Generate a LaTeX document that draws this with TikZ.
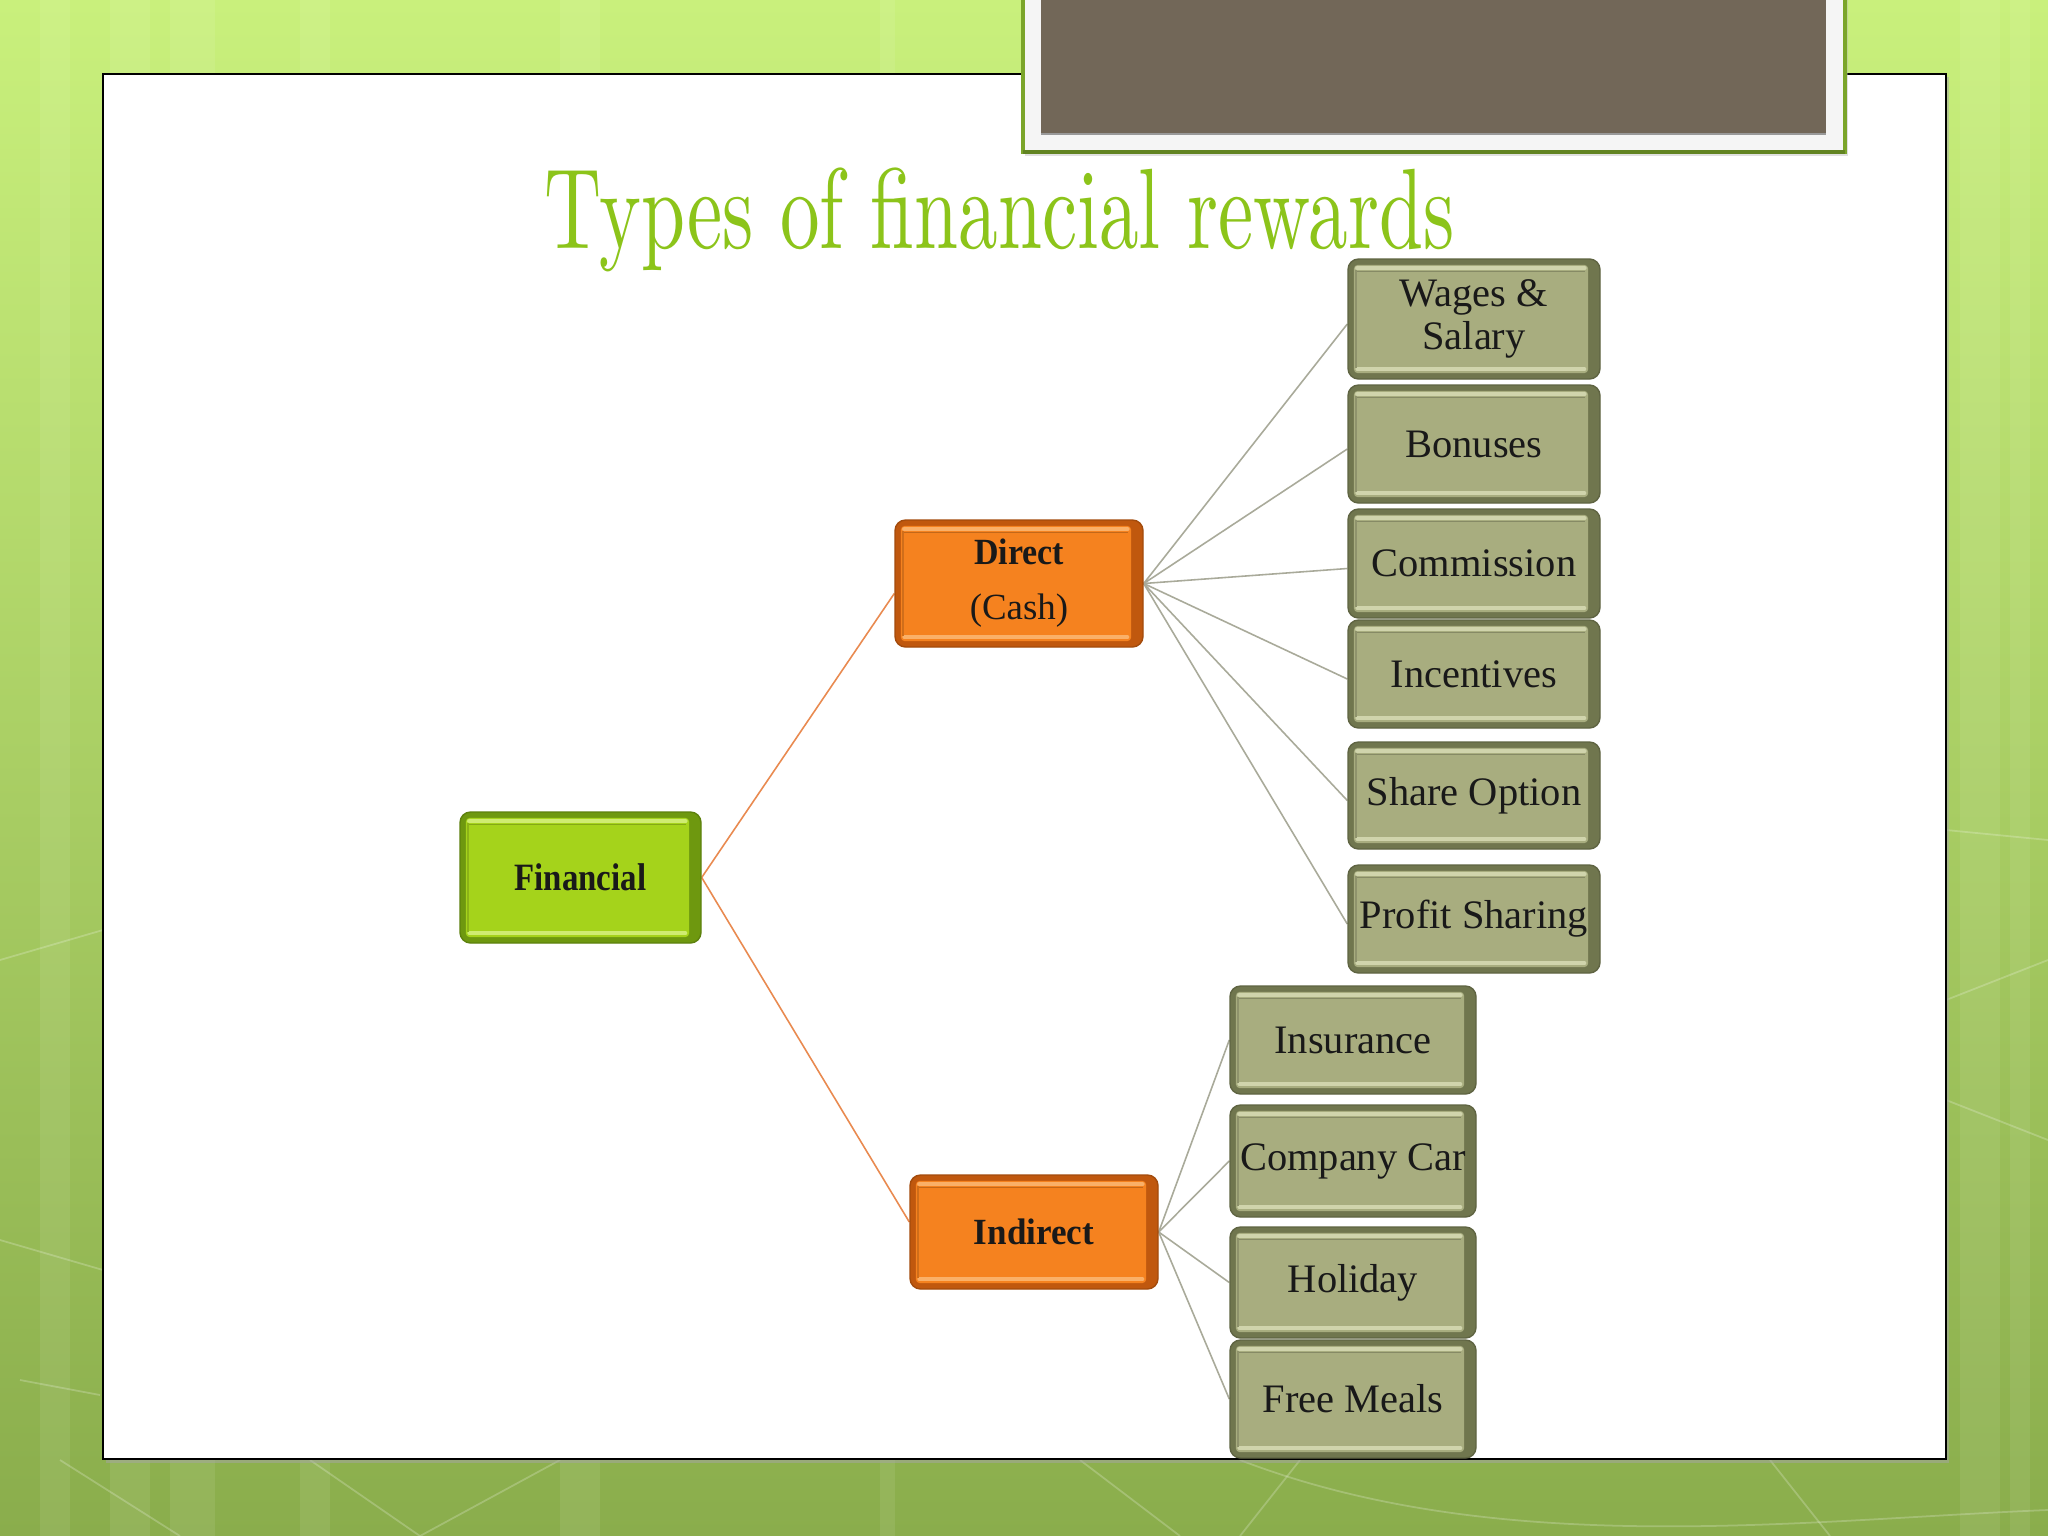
\documentclass[tikz,border=0pt]{standalone}
\usepackage{fontspec}
\usepackage{graphicx}
\newfontfamily\tnr{Liberation Serif}
\usetikzlibrary{calc}
\pgfdeclarelayer{back}
\pgfdeclarelayer{edges}
\pgfsetlayers{back,edges,main}
\definecolor{bgtop}{HTML}{C9F07C}
\definecolor{bgmid}{HTML}{A6CF5A}
\definecolor{bgbot}{HTML}{8AAD4C}
\definecolor{titlegreen}{HTML}{8CC41A}
\definecolor{framegreen}{HTML}{7BA52A}
\definecolor{brownbox}{HTML}{726758}
\definecolor{oliveface}{HTML}{A8AD7F}
\definecolor{oliveedge}{HTML}{70764E}
\definecolor{olivelight}{HTML}{D0D4AC}
\definecolor{orangeface}{HTML}{F5821F}
\definecolor{orangeedge}{HTML}{C0580E}
\definecolor{orangelight}{HTML}{FAB068}
\definecolor{greenface}{HTML}{A5D31B}
\definecolor{greenedge}{HTML}{6E980F}
\definecolor{greenlight}{HTML}{CFEC72}
\definecolor{orangeline}{HTML}{E98A50}
\definecolor{grayline}{HTML}{A9AA9A}
\tikzset{
  bevel/.style n args={3}{
    draw=#2!85!black, line width=0.4pt, fill=#2, rounded corners=3pt,
    inner sep=0pt, align=center, text=black!90,
    path picture={
      \fill[#1, rounded corners=1pt]
        ([shift={(1.7pt,-1.7pt)}]path picture bounding box.north west)
        rectangle ([shift={(-3.4pt,1.7pt)}]path picture bounding box.south east);
      \draw[#3, line width=1.2pt, line cap=round]
        ([shift={(2.6pt,-2.6pt)}]path picture bounding box.north west)
        -- ([shift={(-4.4pt,-2.6pt)}]path picture bounding box.north east);
      \draw[#1!80!black, line width=0.4pt]
        ([shift={(2.6pt,-3.6pt)}]path picture bounding box.north west)
        -- ([shift={(-4.4pt,-3.6pt)}]path picture bounding box.north east);
      \draw[#3, line width=1.0pt, line cap=round]
        ([shift={(2.6pt,2.8pt)}]path picture bounding box.south west)
        -- ([shift={(-4.4pt,2.8pt)}]path picture bounding box.south east);
      \draw[#1!85!black, line width=0.6pt]
        ([shift={(2.2pt,-3pt)}]path picture bounding box.north west)
        -- ([shift={(2.2pt,3pt)}]path picture bounding box.south west);
    }
  },
  olivebox/.style={bevel={oliveface}{oliveedge}{olivelight},
    font=\tnr\fontsize{11.5}{12}\selectfont},
  orangebox/.style={bevel={orangeface}{orangeedge}{orangelight},
    font=\tnr\fontsize{10.5}{15.6}\selectfont},
  greenbox/.style={bevel={greenface}{greenedge}{greenlight},
    font=\tnr\bfseries\fontsize{11}{13}\selectfont},
  mainlink/.style={draw=orangeline, line width=0.45pt},
  sublink/.style={draw=grayline, line width=0.45pt},
  stripe/.style={fill=white, fill opacity=0.08, draw=none},
  bgline/.style={draw=white, draw opacity=0.22, line width=0.5pt}
}
\newcommand\rbox[7]{\node[#6, minimum width=#4*0.01cm, minimum height=#5*0.01cm] (#1) at (#2,#3) {#7};}
\begin{document}
\begin{tikzpicture}[x=0.01cm,y=-0.01cm]
\useasboundingbox (0,0) rectangle (2048,1536);
\begin{pgfonlayer}{back}
  % background
  \shade[top color=bgtop, middle color=bgmid, bottom color=bgbot] (0,0) rectangle (2048,1536);
  \fill[stripe] (40,0) rectangle (70,1536);
  \fill[stripe] (110,0) rectangle (150,1536);
  \fill[stripe] (170,0) rectangle (215,1536);
  \fill[stripe] (300,0) rectangle (330,1536);
  \fill[stripe] (560,0) rectangle (600,1536);
  \fill[stripe] (880,0) rectangle (895,1536);
  \fill[stripe] (1960,0) rectangle (2000,1536);
  \fill[stripe] (2010,0) rectangle (2030,1536);
  \draw[bgline] (20,1380) -- (100,1395);
  \draw[bgline] (60,1460) -- (180,1536);
  \draw[bgline] (310,1460) -- (420,1536);
  \draw[bgline] (560,1460) -- (420,1536);
  \draw[bgline] (1080,1460) -- (1180,1536);
  \draw[bgline] (1300,1460) -- (1240,1536);
  \draw[bgline] (1240,1460) .. controls (1500,1560) and (1800,1520) .. (2048,1510);
  \draw[bgline] (1770,1460) -- (1830,1536);
  \draw[bgline] (1946,1000) -- (2048,960);
  \draw[bgline] (1946,1100) -- (2048,1140);
  \draw[bgline] (1946,830) -- (2048,840);
  \draw[bgline] (0,960) -- (103,930);
  \draw[bgline] (0,1240) -- (103,1270);
  % white panel
  \fill[black!35, opacity=0.5] (106,77) rectangle (1949,1463);
  \fill[white, draw=black, line width=0.6pt] (103,74) rectangle (1946,1459);
  % top picture frame
  \fill[black!30, opacity=0.4] (1025,0) rectangle (1848,156);
  \filldraw[fill=black!4!white, draw=framegreen, line width=0.9pt] (1023,-5) rectangle (1845,152);
  \draw[framegreen!80!black, line width=1.4pt] (1023,152) -- (1845,152);
  \fill[brownbox] (1041,0) rectangle (1826,134);
  \draw[black!40, line width=0.4pt] (1041,134) -- (1826,134);
\end{pgfonlayer}

% title
\node[inner sep=0pt, text=titlegreen] (title) at (999.5,220)
  {\resizebox*{9.09cm}{1.04cm}{Types of financial rewards}};

% main boxes
\rbox{fin}{580.5}{877.5}{241}{131}{greenbox}{\scalebox{0.85}[1]{Financial}}
\rbox{dir}{1019}{583.5}{248}{127}{orangebox}{\textbf{\scalebox{0.92}[1]{Direct}}\\(Cash)}
\rbox{ind}{1034}{1232}{248}{114}{orangebox}{\textbf{\scalebox{0.95}[1]{Indirect}}}

% direct children
\rbox{wag}{1474}{319}{252}{120}{olivebox}{Wages \&\\Salary}
\rbox{bon}{1474}{444}{252}{118}{olivebox}{Bonuses}
\rbox{com}{1474}{563.5}{252}{109}{olivebox}{Commission}
\rbox{inc}{1474}{674}{252}{108}{olivebox}{Incentives}
\rbox{sha}{1474}{795.5}{252}{107}{olivebox}{Share Option}
\rbox{pro}{1474}{919}{252}{108}{olivebox}{Profit Sharing}

% indirect children
\rbox{ins}{1353}{1040}{246}{108}{olivebox}{Insurance}
\rbox{car}{1353}{1161}{246}{112}{olivebox}{Company Car}
\rbox{hol}{1353}{1282.5}{246}{111}{olivebox}{Holiday}
\rbox{mea}{1353}{1399}{246}{118}{olivebox}{Free Meals}

\begin{pgfonlayer}{edges}
  \draw[mainlink] (fin.east) -- ([yshift=-0.1cm]dir.west);
  \draw[mainlink] (fin.east) -- ([yshift=0.1cm]ind.west);
  \foreach \t in {wag,bon,com,inc,sha,pro}
    \draw[sublink] (dir.east) -- ([yshift=-0.05cm]\t.west);
  \foreach \t in {ins,car,hol,mea}
    \draw[sublink] (ind.east) -- (\t.west);
\end{pgfonlayer}
\end{tikzpicture}
\end{document}
